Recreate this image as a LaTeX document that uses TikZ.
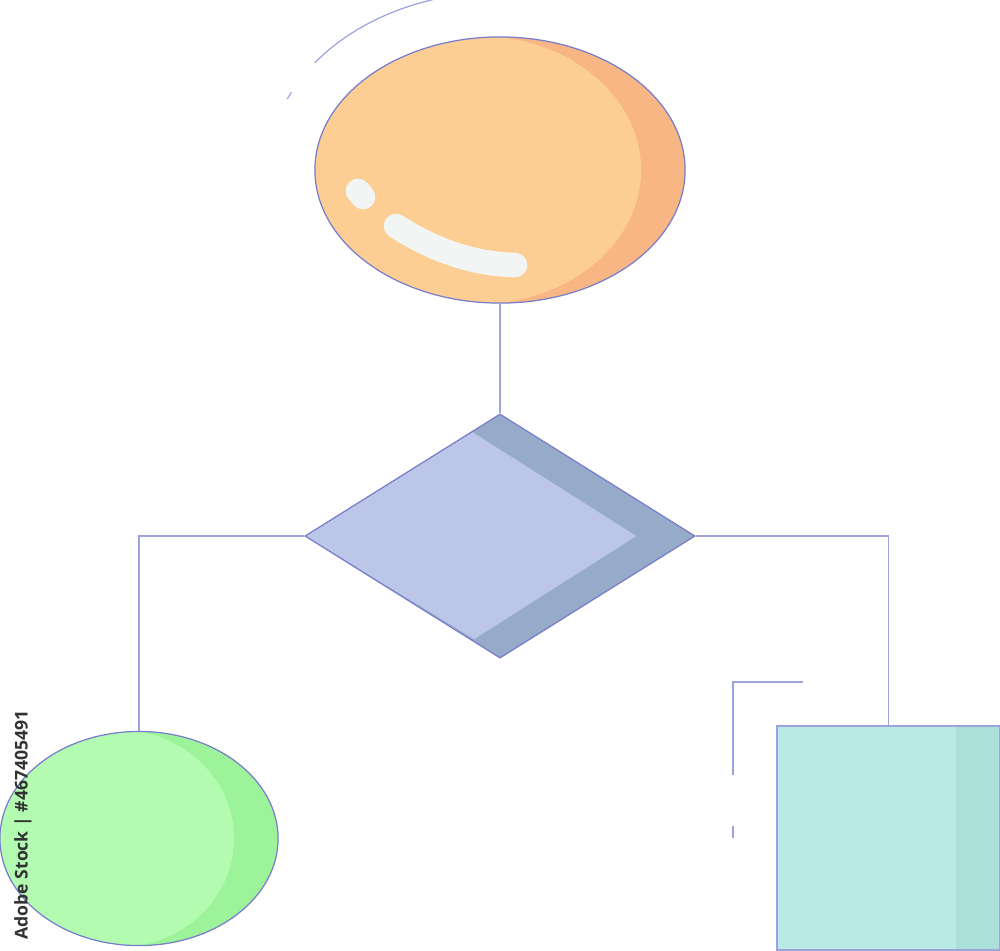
\documentclass[tikz,border=0pt]{standalone}
\usepackage{fontspec}
\newfontfamily\stampfont{Open Sans}
\usepackage{tikz}
\usetikzlibrary{calc,shapes.geometric,positioning}
\definecolor{myedge}{RGB}{120,124,204}
\definecolor{mylink}{RGB}{158,162,224}
\definecolor{myorange}{RGB}{253,206,148}
\definecolor{myorangedark}{RGB}{247,182,131}
\definecolor{myblue}{RGB}{187,198,232}
\definecolor{mybluedark}{RGB}{150,170,201}
\definecolor{mygreen}{RGB}{179,251,177}
\definecolor{mygreendark}{RGB}{157,243,154}
\definecolor{myteal}{RGB}{184,234,230}
\definecolor{mytealdark}{RGB}{171,224,217}
\definecolor{mygloss}{RGB}{241,245,243}
\tikzstyle{link}=[draw=mylink,line width=0.35pt]
\tikzstyle{startnode}=[draw=myedge,ellipse,fill=myorangedark,minimum width=3.7cm,minimum height=2.66cm,inner sep=0pt,
  path picture={\fill[myorange] ([xshift=-0.22cm]path picture bounding box.center) ellipse [x radius=1.63cm,y radius=1.34cm];}]
\tikzstyle{decision}=[draw=myedge,diamond,fill=mybluedark,minimum width=3.9cm,minimum height=2.44cm,inner sep=0pt,
  path picture={\fill[myblue] (path picture bounding box.west) -- ++(1.67cm,1.04cm) -- ++(1.64cm,-1.04cm) -- ++(-1.62cm,-1.03cm) -- cycle;}]
\tikzstyle{yesnode}=[draw=myedge,ellipse,fill=mygreendark,minimum width=2.78cm,minimum height=2.14cm,inner sep=0pt,
  path picture={\fill[mygreen] ([xshift=-0.22cm]path picture bounding box.center) ellipse [x radius=1.17cm,y radius=1.09cm];}]
\tikzstyle{nonode}=[draw=mylink,rectangle,fill=myteal,minimum width=2.23cm,minimum height=2.24cm,inner sep=0pt,
  path picture={\fill[mytealdark] ([xshift=-0.44cm]path picture bounding box.north east) rectangle (path picture bounding box.south east);}]
\tikzstyle{gloss}=[draw=mygloss,line width=7pt,line cap=round]

\begin{document}
\begin{tikzpicture}[x=0.01cm,y=-0.01cm,line width=0.35pt]
\useasboundingbox (0,0) rectangle (1000,950);
\draw (500, 170) node [startnode] (start) {};
\draw (500, 536) node [decision] (dec) {};
\draw (139, 838.5) node [yesnode] (yes) {};
\draw (888.5, 838) node [nonode] (no) {};
% shine on the start node
\draw[gloss] (358, 191) -- (363, 197);
\draw[gloss] (396, 226) .. controls (430, 248) and (470, 264) .. (515, 265);
% arc around the start node
\draw[link] (500, 170) ++(-106.8:232 and 178) arc [start angle=-106.8, end angle=-143, x radius=232, y radius=178];
\draw[link] (500, 170) ++(-154:232 and 178) arc [start angle=-154, end angle=-156.5, x radius=232, y radius=178];
% connectors
\draw[link] (start) -- (dec);
\draw[link] (dec.west) -| (yes);
\draw[link] (dec.east) -| (no);
% bracket beside the box
\draw[link] (803, 682) -- (733, 682) -- (733, 775);
\draw[link] (733, 826) -- (733, 838);
\node[rotate=90, text={rgb,255:red,50;green,50;blue,50}, font=\stampfont\bfseries\fontsize{5.0}{6}\selectfont] (stamp) at (23, 825) {Adobe Stock | \#467405491};
\end{tikzpicture}
\end{document}
